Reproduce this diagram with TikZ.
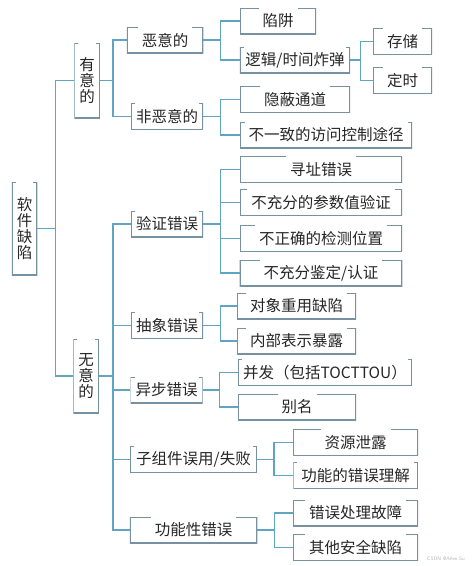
\documentclass[tikz,border=0pt]{standalone}
\usepackage{fontspec}
\newfontfamily\cjk{Noto Sans CJK SC}
\usetikzlibrary{calc}
\definecolor{linkblue}{RGB}{96,164,196}
\definecolor{framegray}{RGB}{118,146,160}

\begin{document}
\begin{tikzpicture}[
    x=1pt, y=-1pt,
    font=\cjk\fontsize{15.5}{16}\selectfont,
    bx/.style={
        inner xsep=#1pt, inner ysep=0pt, minimum height=26pt,
        text=black!85,
        path picture={
            \draw[draw=framegray, line width=1.8pt]
                ([xshift={max(#1-4,4)}]path picture bounding box.north west)
                -- (path picture bounding box.north west)
                -- (path picture bounding box.south west)
                -- (path picture bounding box.south east)
                -- (path picture bounding box.north east)
                -- ([xshift={-max(#1-4,4)}]path picture bounding box.north east);
        }
    },
    col/.style={bx=5, align=center, minimum height=#1pt},
    link/.style={draw=linkblue, line width=1.1pt}
]
\useasboundingbox (0,0) rectangle (474,566);

% root and first level
\node[col=93] (root) at (24.5,228.5) {软\\件\\缺\\陷};
\node[col=75] (yx) at (87,80.5) {有\\意\\的};
\node[col=74] (wx) at (86,376) {无\\意\\的};

% second level
\node[bx=15] (ey) at (165,40) {恶意的};
\node[bx=5] (fey) at (167,116.5) {非恶意的};
\node[bx=5] (yz) at (167,224) {验证错误};
\node[bx=5] (cx) at (167,325.5) {抽象错误};
\node[bx=5] (yb) at (166.5,390) {异步错误};
\node[bx=6] (zj) at (193.5,459.5) {子组件误用/失败};
\node[bx=25] (gn) at (193.5,530) {功能性错误};

% third level
\node[bx=22.5] (xj) at (278,21) {陷阱};
\node[bx=5.5] (lj) at (295,60) {逻辑/时间炸弹};
\node[bx=24] (yb1) at (295,99.5) {隐蔽通道};
\node[bx=8.5] (fw) at (326,135) {不一致的访问控制途径};
\node[bx=50] (xz) at (321,169.5) {寻址错误};
\node[bx=11.25] (cs) at (321,202.5) {不充分的参数值验证};
\node[bx=19] (jc) at (321,238.5) {不正确的检测位置};
\node[bx=24] (jd) at (321,273) {不充分鉴定/认证};
\node[bx=13] (dx) at (296.5,306) {对象重用缺陷};
\node[bx=13] (nb) at (296.5,341) {内部表示暴露};
\node[bx=5] (bf) at (325,372.5) {并发（包括TOCTTOU）};
\node[bx=43.5] (bm) at (297,407) {别名};
\node[bx=31.5] (zy) at (355.5,442.5) {资源泄露};
\node[bx=8] (gl) at (355.5,475.5) {功能的错误理解};
\node[bx=16] (cl) at (355.5,513) {错误处理故障};
\node[bx=16] (qt) at (355.5,547.5) {其他安全缺陷};

% fourth level
\node[bx=14] (cc) at (402.5,41.5) {存储};
\node[bx=14] (ds) at (402.5,80.5) {定时};

\node[font=\sffamily\fontsize{5}{6}\selectfont, text=black!30] (wm)
    at (446,559) {CSDN @Allen.Su};

% connectors
\foreach \p/\c/\d in {root/yx/18, root/wx/18,
        yx/ey/13, yx/fey/13,
        wx/yz/14, wx/cx/14, wx/yb/14, wx/zj/14, wx/gn/14,
        ey/xj/17, ey/lj/17, lj/cc/10, lj/ds/10,
        fey/yb1/17, fey/fw/17,
        yz/xz/17, yz/cs/17, yz/jc/17, yz/jd/17,
        cx/dx/17, cx/nb/17, yb/bf/17, yb/bm/17,
        zj/zy/17, zj/gl/17, gn/cl/17, gn/qt/17}
    \draw[link] (\p.east) -- ++(\d,0) |- (\c.west);
\end{tikzpicture}
\end{document}
